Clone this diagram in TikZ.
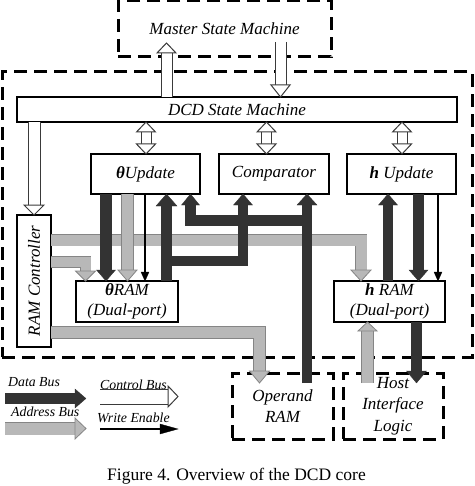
\documentclass[tikz,border=0pt]{standalone}
\usepackage{fontspec}
\setmainfont{Liberation Serif}
\usetikzlibrary{calc}
\definecolor{dk}{HTML}{333333}
\definecolor{gy}{HTML}{B8B8B8}
\definecolor{gyo}{HTML}{858585}
\definecolor{co}{HTML}{3A3A3A}
\newcommand\tipdown[4]{\filldraw[#4] (#1) -- ++(-#2,-#3) -- ++({2*#2},0) -- cycle;}
\newcommand\tipup[4]{\filldraw[#4] (#1) -- ++(-#2,#3) -- ++({2*#2},0) -- cycle;}
\newcommand\tipright[4]{\filldraw[#4] (#1) -- ++(-#3,-#2) -- ++(0,{2*#2}) -- cycle;}
\begin{document}
\begin{tikzpicture}[x=1pt,y=-1pt,
  box/.style={draw=black, line width=1.2pt, fill=white, inner sep=0pt, outer sep=0pt,
    font=\fontsize{17}{20}\selectfont\itshape, align=center},
  dashbox/.style={draw=black, line width=3pt, dash pattern=on 13pt off 7pt, inner sep=0pt,
    outer sep=0pt, font=\fontsize{17}{21.5}\selectfont\itshape, align=center},
  dbus/.style={draw=dk, line width=#1},
  gbus/.style 2 args={draw=gy, line width=#1, preaction={draw=gyo, line width=#2}},
  cbus/.style 2 args={draw=white, line width=#1, preaction={draw=co, line width=#2}},
  wbus/.style={draw=black, line width=#1},
  dhead/.style={fill=dk, draw=dk, line width=0.3pt},
  ghead/.style={fill=gy, draw=gyo, line width=0.8pt},
  chead/.style={fill=white, draw=co, line width=1pt},
  whead/.style={fill=black, draw=black, line width=0.3pt},
  legtext/.style={font=\fontsize{13.8}{15}\selectfont\itshape, inner sep=0pt, anchor=base west}]
\useasboundingbox (0,0) rectangle (474,486);

% containers
\node[dashbox, minimum width=213pt, minimum height=56pt] (master) at (224.5,29) {Master State Machine};
\node[dashbox, minimum width=470pt, minimum height=285pt] (core) at (237,214.5) {};
\node[dashbox, minimum width=101pt, minimum height=66pt] (opr) at (282.5,406) {Operand\\RAM};
\node[dashbox, minimum width=100pt, minimum height=66pt] (hil) at (393,406) {Host\\Interface\\Logic};

% blocks
\node[box, minimum width=440pt, minimum height=25pt] (dcd) at (237,109.5) {DCD State Machine};
\node[box, minimum width=109pt, minimum height=40pt] (tu) at (145.5,174) {{\bfseries θ}Update};
\node[box, minimum width=110pt, minimum height=40pt] (cmp) at (274,174) {Comparator};
\node[box, minimum width=109pt, minimum height=40pt] (hu) at (401.5,174) {{\bfseries h} Update};
\node[box, minimum width=132pt, minimum height=34pt, rotate=90] (ramc) at (34,281) {RAM Controller};
\node[box, minimum width=102pt, minimum height=41pt] (tr) at (127,301.5) {{\bfseries θ}RAM\\(Dual-port)};
\node[box, minimum width=111pt, minimum height=41pt] (hr) at (389.5,301.5) {{\bfseries h} RAM\\(Dual-port)};

\coordinate (opin) at (259.5,383);
\coordinate (opout) at (307,383);
\coordinate (hilin) at (416.5,383);
\coordinate (hilout) at (367.5,383);

% address buses (grey)
\draw[gbus={11pt}{12.6pt}, shorten >=11pt] (ramc.south |- 0,240) -- (361,240) -- (361,0 |- hr.north);
\tipdown{361,0 |- hr.north}{10}{11}{ghead}
\draw[gbus={10pt}{11.6pt}, shorten >=10pt] (ramc.south |- 0,262) -- (85.5,262) -- (85.5,0 |- tr.north);
\tipdown{85.5,0 |- tr.north}{10}{10}{ghead}
\draw[gbus={11pt}{12.6pt}, shorten >=12pt] (ramc.south |- 0,332.5) -- (259.5,332.5) -- (opin);
\tipdown{opin}{10}{12}{ghead}
\draw[gbus={11pt}{12.6pt}, shorten >=11pt] (127.5,0 |- tu.south) -- (127.5,0 |- tr.north);
\tipdown{127.5,0 |- tr.north}{9.5}{11}{ghead}
\draw[gbus={11pt}{12.6pt}, shorten >=9pt] (hilout) -- (367.5,0 |- hr.south);
\tipup{367.5,0 |- hr.south}{9.5}{9}{ghead}

% data buses (dark)
\draw[dbus=12pt, shorten >=11pt] (106,0 |- tu.south) -- (106,0 |- tr.north);
\tipdown{106,0 |- tr.north}{9.5}{11}{dhead}
\draw[dbus=11pt, shorten >=12pt] (166.5,0 |- tr.north) -- (166.5,0 |- tu.south);
\tipup{166.5,0 |- tu.south}{10.5}{12}{dhead}
\draw[dbus=10pt, shorten >=11pt] (166.5,261) -- (243,261) -- (243,0 |- cmp.south);
\tipup{243,0 |- cmp.south}{9.5}{11}{dhead}
\draw[dbus=10pt, shorten >=11pt] (opout) -- (307,0 |- cmp.south);
\tipup{307,0 |- cmp.south}{10}{11}{dhead}
\draw[dbus=11pt, shorten >=11pt] (307,220) -- (190.5,220) -- (190.5,0 |- tu.south);
\tipup{190.5,0 |- tu.south}{9}{11}{dhead}
\draw[dbus=10pt, shorten >=11pt] (388,0 |- hr.north) -- (388,0 |- hu.south);
\tipup{388,0 |- hu.south}{9.5}{11}{dhead}
\draw[dbus=11pt, shorten >=11pt] (418.5,0 |- hu.south) -- (418.5,0 |- hr.north);
\tipdown{418.5,0 |- hr.north}{9.5}{11}{dhead}
\draw[dbus=11pt, shorten >=12pt] (416.5,0 |- hr.south) -- (hilin);
\tipdown{hilin}{10}{12}{dhead}

% write enables
\draw[wbus=1.3pt, shorten >=9pt] (145,0 |- tu.south) -- (145,0 |- tr.north);
\tipdown{145,0 |- tr.north}{4}{9}{whead}
\draw[wbus=1.3pt, shorten >=9pt] (438,0 |- hu.south) -- (438,0 |- hr.north);
\tipdown{438,0 |- hr.north}{4}{9}{whead}

% control buses (hollow)
\coordinate (mstin) at (166.5,43);
\coordinate (mstout) at (280.5,42);
\draw[cbus={10pt}{12pt}, shorten >=10pt] (166.5,0 |- dcd.north) -- (mstin);
\tipup{mstin}{9.5}{10}{chead}
\draw[cbus={10pt}{12pt}, shorten >=12pt] (mstout) -- (280.5,0 |- dcd.north);
\tipdown{280.5,0 |- dcd.north}{9.5}{12}{chead}
\foreach \xx/\mm in {146/tu, 266.5/cmp, 402/hu}{
  \draw[cbus={9pt}{11pt}, shorten >=10pt, shorten <=10pt] (\xx,0 |- dcd.south) -- (\xx,0 |- \mm.north);
  \tipup{\xx,0 |- dcd.south}{9.5}{10}{chead}
  \tipdown{\xx,0 |- \mm.north}{9.5}{10}{chead}
}
\draw[cbus={11pt}{13pt}, shorten >=10pt] (34,0 |- dcd.south) -- (34,0 |- ramc.east);
\tipdown{34,0 |- ramc.east}{10}{10}{chead}

% legend
\node[legtext] (ltd) at (8,386) {Data Bus};
\node[legtext] (ltc) at (100,389.5) {Control Bus};
\node[legtext] (lta) at (11,416.5) {Address Bus};
\node[legtext] (ltw) at (97,422) {Write Enable};
\coordinate (lda) at (5,398.5); \coordinate (ldb) at (86,398.5);
\draw[dbus=11pt, shorten >=11pt] (lda) -- (ldb);
\tipright{ldb}{9.5}{11}{dhead}
\coordinate (lca) at (100,396.5); \coordinate (lcb) at (178,396.5);
\draw[cbus={14pt}{16pt}, shorten >=10pt] (lca) -- (lcb);
\tipright{lcb}{10.5}{10}{chead}
\coordinate (laa) at (5,428.5); \coordinate (lab) at (86,428.5);
\draw[gbus={12pt}{13.6pt}, shorten >=11pt] (laa) -- (lab);
\tipright{lab}{10.5}{11}{ghead}
\coordinate (lwa) at (100,429); \coordinate (lwb) at (178,429);
\draw[wbus=1.6pt, shorten >=18pt] (lwa) -- (lwb);
\tipright{lwb}{5}{18}{whead}

% caption
\node[inner sep=0pt, anchor=base, font=\fontsize{17.5}{20}\selectfont] (cap) at (236.5,480.5) {Figure 4. Overview of the DCD core};
\end{tikzpicture}
\end{document}
